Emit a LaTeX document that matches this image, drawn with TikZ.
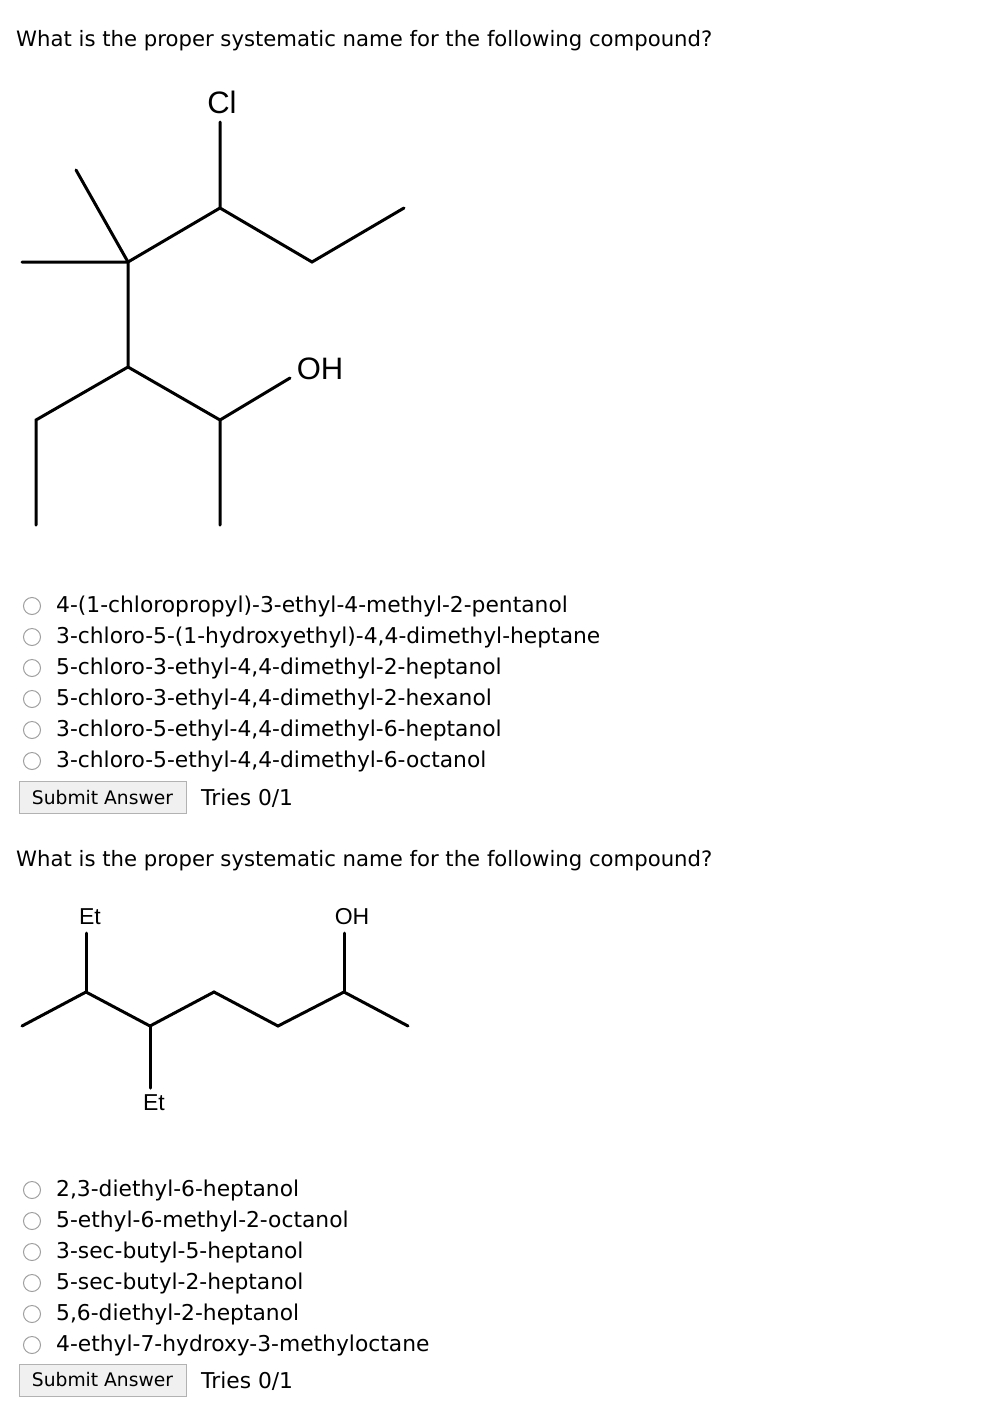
\documentclass[tikz,border=0pt]{standalone}
\usepackage{fontspec}
\setmainfont{DejaVu Sans}
\newfontfamily\arialf{Liberation Sans}
\begin{document}
\begin{tikzpicture}[x=1pt,y=-1pt,
  q/.style={anchor=west,inner sep=0pt,font=\fontsize{21.2}{23}\selectfont},
  opt/.style={anchor=west,inner sep=0pt,font=\fontsize{21.8}{23}\selectfont},
  lbl/.style={inner sep=1pt,font=\arialf\fontsize{31}{33}\selectfont},
  lbl2/.style={inner sep=1pt,font=\arialf\fontsize{23}{25}\selectfont},
  bond/.style={line width=3pt,line cap=round},
  radio/.style={draw=gray!75,line width=1pt,circle,minimum size=17pt,inner sep=0pt},
  btn/.style={draw=gray!60,fill=gray!12,minimum width=167pt,minimum height=32pt,inner sep=0pt,font=\fontsize{18.7}{20}\selectfont}]
\useasboundingbox (0,0) rectangle (994,1416);
% question 1
\node[q] (q1) at (16,41) {What is the proper systematic name for the following compound?};
\node[lbl] (cl) at (222,102) {Cl};
\coordinate (a0) at (220,122);
\coordinate (a1) at (220,208); \coordinate (a2) at (312,262); \coordinate (a3) at (404,208);
\coordinate (b) at (128,262); \coordinate (bu) at (76,170); \coordinate (bl) at (22,262);
\coordinate (c) at (128,367); \coordinate (d1) at (36,420); \coordinate (d2) at (36,525);
\coordinate (e1) at (220,420); \coordinate (e2) at (220,525);
\coordinate (o1) at (290,378);
\node[lbl] (oh1) at (320,369) {OH};
\draw[bond] (a0) -- (a1) -- (a2) -- (a3);
\draw[bond] (bu) -- (b); \draw[bond] (bl) -- (b) -- (a1);
\draw[bond] (b) -- (c) -- (d1) -- (d2);
\draw[bond] (c) -- (e1) -- (e2);
\draw[bond] (e1) -- (o1);
\foreach \t [count=\i] in {4-(1-chloropropyl)-3-ethyl-4-methyl-2-pentanol,
 3-chloro-5-(1-hydroxyethyl)-4\rlap{,}\phantom{,}4-dimethyl-heptane,
 5-chloro-3-ethyl-4\rlap{,}\phantom{,}4-dimethyl-2-heptanol,
 5-chloro-3-ethyl-4\rlap{,}\phantom{,}4-dimethyl-2-hexanol,
 3-chloro-5-ethyl-4\rlap{,}\phantom{,}4-dimethyl-6-heptanol,
 3-chloro-5-ethyl-4\rlap{,}\phantom{,}4-dimethyl-6-octanol}{
  \node[radio] (r1\i) at (32,{575+31*\i}) {};
  \node[opt] (o1\i) at (56,{575+31*\i}) {\t};
}
\node[btn] (s1) at (102.5,797.5) {Submit Answer};
\node[opt] (t1) at (201,798) {Tries 0/1};
% question 2
\node[q] (q2) at (16,861) {What is the proper systematic name for the following compound?};
\node[lbl2] (et1) at (90,917) {Et};
\node[lbl2] (oh2) at (352,917) {OH};
\node[lbl2] (et2) at (154,1103) {Et};
\coordinate (p1) at (22,1026); \coordinate (p2) at (86,992); \coordinate (p3) at (150,1026);
\coordinate (p4) at (214,992); \coordinate (p5) at (278,1026); \coordinate (p6) at (344,992);
\coordinate (p7) at (408,1026);
\coordinate (p2u) at (86,933); \coordinate (p6u) at (344,933); \coordinate (p3d) at (150,1088);
\draw[bond] (p1) -- (p2) -- (p3) -- (p4) -- (p5) -- (p6) -- (p7);
\draw[bond] (p2u) -- (p2);
\draw[bond] (p6u) -- (p6);
\draw[bond] (p3) -- (p3d);
\foreach \t [count=\i] in {2\rlap{,}\phantom{,}3-diethyl-6-heptanol,
 5-ethyl-6-methyl-2-octanol,
 3-sec-butyl-5-heptanol,
 5-sec-butyl-2-heptanol,
 5\rlap{,}\phantom{,}6-diethyl-2-heptanol,
 4-ethyl-7-hydroxy-3-methyloctane}{
  \node[radio] (r2\i) at (32,{1159+31*\i}) {};
  \node[opt] (o2\i) at (56,{1159+31*\i}) {\t};
}
\node[btn] (s2) at (102.5,1380) {Submit Answer};
\node[opt] (t2) at (201,1381) {Tries 0/1};
\end{tikzpicture}
\end{document}
